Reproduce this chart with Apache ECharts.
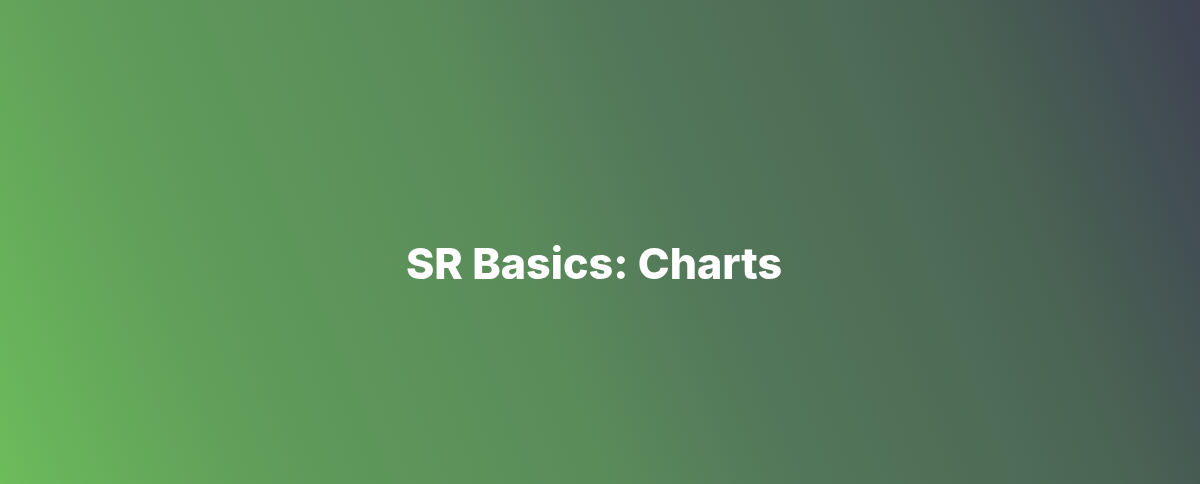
<!DOCTYPE html>
<html>
<head>
<meta charset="utf-8">
<script src="https://cdn.jsdelivr.net/npm/echarts@6/dist/echarts.min.js"></script>
<style>
html,body{margin:0;padding:0;width:1200px;height:484px;overflow:hidden;}
#chart{width:1200px;height:484px;}
</style>
</head>
<body>
<div id="chart"></div>
<script>
const titleText = "SR Basics: Charts";
const gradientOffsets = [0, 0.14, 0.22, 0.44, 0.56, 0.8, 1];
const gradientColors = ["#6cbc5b", "#63a45a", "#5f9a5a", "#5a8b5a", "#53785a", "#4b6654", "#3e4252"];

const chart = echarts.init(document.getElementById('chart'));
chart.setOption({
  backgroundColor: new echarts.graphic.LinearGradient(0, 1, 1, 0,
    gradientOffsets.map((o, i) => ({ offset: o, color: gradientColors[i] }))),
  graphic: [{
    type: 'text',
    x: 594,
    y: 266,
    style: {
      text: titleText,
      fill: '#ffffff',
      font: '800 43px Inter',
      textAlign: 'center',
      textVerticalAlign: 'middle'
    }
  }],
  series: []
});
</script>
</body>
</html>
